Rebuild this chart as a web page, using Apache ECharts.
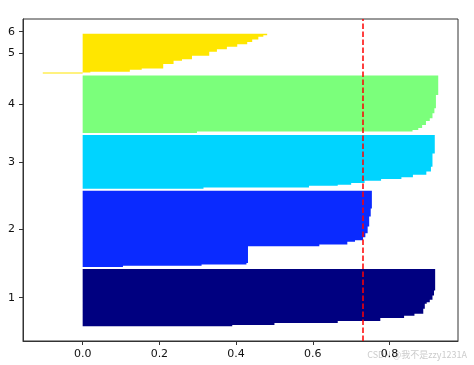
<!DOCTYPE html>
<html>
<head>
<meta charset="utf-8">
<script src="https://cdn.jsdelivr.net/npm/echarts@6/dist/echarts.min.js"></script>
<style>
  html, body { margin: 0; padding: 0; background: #fff; }
  #main { width: 474px; height: 365px; }
</style>
</head>
<body>
<div id="main"></div>
<script>
// silhouette plot, one cluster per band; tick labels on the y axis
var clusterNames = ['1', '2', '3', '4', '5', '6'];
var silhouetteAvg = 0.728;
var xTicks = [0, 0.2, 0.4, 0.6, 0.8];

// each step = [number of samples, silhouette value], sorted bottom -> top
var cluster1 = [[7, 0.39], [10, 0.50], [10, 0.665], [15, 0.776], [11, 0.838], [11, 0.865],
    [25, 0.888], [25, 0.892], [8, 0.897], [12, 0.905], [22, 0.912], [25, 0.916], [109, 0.919]];
var cluster2 = [[6, 0.105], [6, 0.31], [8, 0.427], [85, 0.431], [8, 0.617], [14, 0.69],
    [8, 0.71], [15, 0.731], [20, 0.737], [35, 0.743], [50, 0.747], [40, 0.751], [90, 0.754]];
var cluster3 = [[6, 0.315], [9, 0.59], [5, 0.665], [9, 0.70], [12, 0.735], [8, 0.778],
    [10, 0.831], [12, 0.861], [16, 0.896], [25, 0.908], [67, 0.912], [93, 0.918]];
var cluster4 = [[7, 0.298], [8, 0.86], [10, 0.875], [16, 0.885], [19, 0.895], [15, 0.905],
    [25, 0.912], [25, 0.917], [67, 0.921], [98, 0.927]];
var cluster5 = [[6, -0.104], [3, 0.02], [10, 0.123], [7, 0.154], [22, 0.21], [17, 0.237],
    [8, 0.259], [17, 0.285], [20, 0.33], [13, 0.35], [13, 0.376], [12, 0.403], [12, 0.429],
    [13, 0.442], [13, 0.458], [8, 0.471], [8, 0.481]];
var cluster6 = [];

var clusters = [cluster1, cluster2, cluster3, cluster4, cluster5, cluster6];
var colors = ['#000080', '#0a2aff', '#00d4ff', '#7bff7b', '#ffe600', '#ff4800'];

// stack the clusters like the usual silhouette script does (gap of 10)
var yLower = 10;
var bands = [];
var tickPos = [];
var yDataMax = 10;
var xDataMin = 0, xDataMax = 0;
clusters.forEach(function(steps, i) {
    var size = 0;
    steps.forEach(function(s) {
        size += s[0];
        xDataMin = Math.min(xDataMin, s[1]);
        xDataMax = Math.max(xDataMax, s[1]);
    });
    bands.push([i, yLower, yLower + size]);
    tickPos.push(yLower + 0.5 * size);
    if (size > 0) yDataMax = yLower + size;
    yLower = yLower + size + 10;
});

var yPad = (yDataMax - 10) * 0.05;
var xPad = (xDataMax - xDataMin) * 0.05;

var myChart = echarts.init(document.getElementById('main'));
var option = {
    animation: false,
    grid: {
        left: 23, right: 16, top: 19, bottom: 24,
        show: true,
        borderColor: '#333',
        borderWidth: 1
    },
    xAxis: {
        type: 'value',
        min: xDataMin - xPad,
        max: xDataMax + xPad,
        splitLine: { show: false },
        axisLine: { show: true, onZero: false, lineStyle: { color: '#333', width: 1 } },
        axisTick: { show: true, length: 4, customValues: xTicks, lineStyle: { color: '#333' } },
        axisLabel: {
            customValues: xTicks,
            formatter: function(v) { return v.toFixed(1); },
            color: '#111', fontSize: 11, fontFamily: 'DejaVu Sans', margin: 8
        }
    },
    yAxis: {
        type: 'value',
        min: 10 - yPad,
        max: yDataMax + yPad,
        splitLine: { show: false },
        axisLine: { show: true, onZero: false, lineStyle: { color: '#333', width: 1 } },
        axisTick: { show: true, length: 4, customValues: tickPos, lineStyle: { color: '#333' } },
        axisLabel: {
            customValues: tickPos,
            formatter: function(v) {
                var best = 0;
                tickPos.forEach(function(t, i) {
                    if (Math.abs(t - v) < Math.abs(tickPos[best] - v)) best = i;
                });
                return clusterNames[best];
            },
            color: '#111', fontSize: 11, fontFamily: 'DejaVu Sans', margin: 8
        }
    },
    series: [
        {
            type: 'custom',
            data: bands,
            renderItem: function(params, api) {
                var idx = api.value(0);
                var steps = clusters[idx];
                if (!steps.length) return null;
                var y = api.value(1);
                var pts = [api.coord([0, y])];
                steps.forEach(function(s) {
                    pts.push(api.coord([s[1], y]));
                    y += s[0];
                    pts.push(api.coord([s[1], y]));
                });
                pts.push(api.coord([0, y]));
                return {
                    type: 'polygon',
                    shape: { points: pts },
                    style: { fill: colors[idx], stroke: null }
                };
            },
            markLine: {
                silent: true,
                symbol: 'none',
                label: { show: false },
                lineStyle: { color: '#ff0000', type: [5.5, 2.5], width: 1.5 },
                data: [{ xAxis: silhouetteAvg }]
            }
        }
    ],
    graphic: [
        {
            type: 'text',
            right: 7,
            top: 350,
            style: {
                text: 'CSDN @我不是zzy1231A',
                fontSize: 9,
                fontFamily: 'Noto Sans CJK SC',
                fill: 'rgba(160,160,160,0.55)'
            }
        }
    ]
};
myChart.setOption(option);
</script>
</body>
</html>
